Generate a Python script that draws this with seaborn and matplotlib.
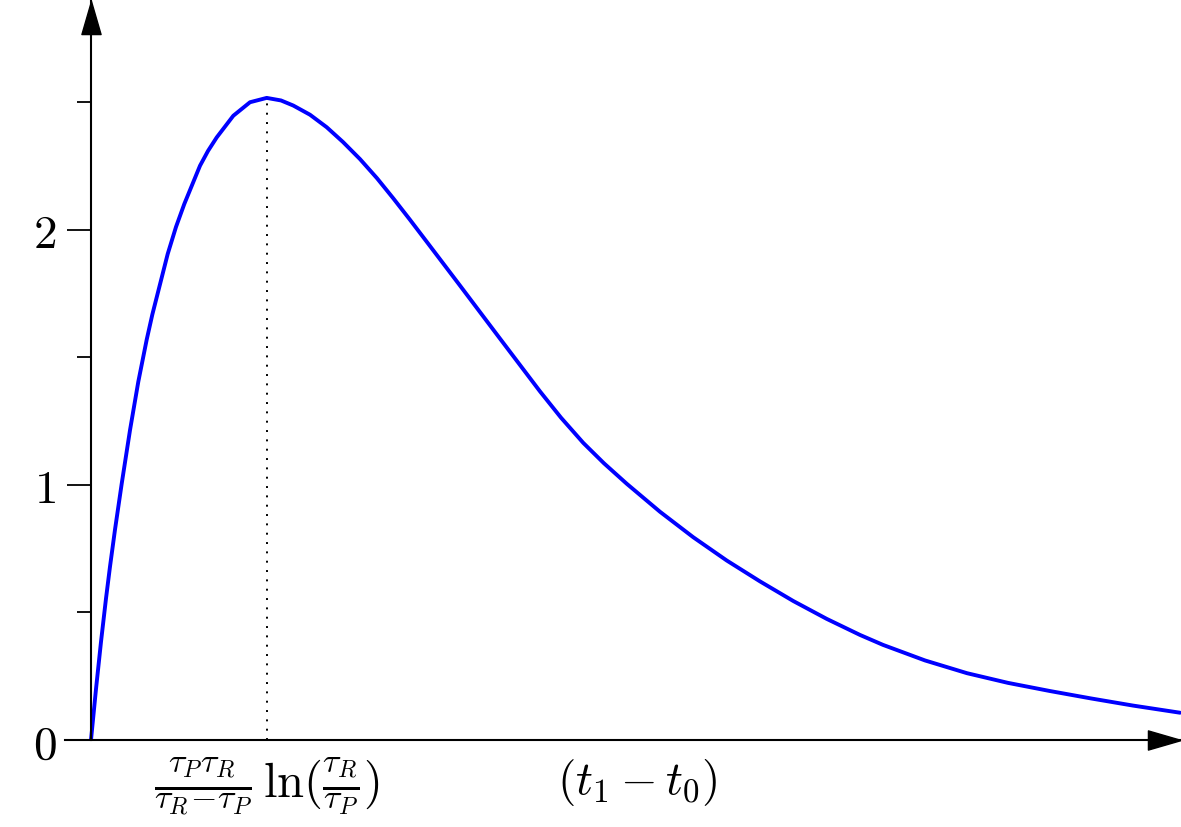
import numpy as np
import matplotlib
matplotlib.use("Agg")
import matplotlib.pyplot as plt
import seaborn as sns

# valores (t en unidades arbitrarias)
t_vals = [0.0, 0.05, 0.1, 0.15, 0.19, 0.24, 0.307, 0.39, 0.473, 0.557, 0.613,
          0.767, 0.85, 0.933, 1.09, 1.17, 1.257, 1.423, 1.59, 1.757, 1.9,
          2.023, 2.19, 2.357, 2.52, 2.69, 2.86, 3.023, 3.19, 3.357, 3.69,
          4.09, 4.49, 4.7, 4.923, 5.13, 5.357, 5.69, 6.023, 6.357, 6.69, 7.023,
          7.357, 7.69, 7.92, 8.34, 8.76, 9.17, 9.59, 10.0, 10.42, 10.89]
y_vals = [0.0, 0.2, 0.385, 0.555, 0.68, 0.825, 1.005, 1.215, 1.405, 1.57, 1.668,
          1.906, 2.012, 2.102, 2.252, 2.31, 2.363, 2.448, 2.501, 2.518, 2.508,
          2.488, 2.452, 2.403, 2.345, 2.278, 2.203, 2.124, 2.04, 1.954, 1.782,
          1.574, 1.367, 1.264, 1.165, 1.085, 1.005, 0.895, 0.795, 0.704, 0.622, 0.545,
          0.475, 0.412, 0.373, 0.312, 0.262, 0.224, 0.192, 0.163, 0.135, 0.107]
ytick_major = [0, 1, 2]
ytick_minor = [0.5, 1.5, 2.5]
ytick_labels = ["$0$", "$1$", "$2$"]
peak_label = r"$\frac{\tau_P\tau_R}{\tau_R\!-\!\tau_P}\,\ln(\frac{\tau_R}{\tau_P})$"
x_label = r"$(t_1 - t_0)$"

sns.set_style("ticks")
plt.rcParams["mathtext.fontset"] = "cm"
plt.rcParams["font.family"] = ["DejaVu Sans"]

fig = plt.figure(figsize=(11.81, 8.28), dpi=100)
ax = fig.add_axes([65 / 1181, 87 / 828, 1116 / 1181, 739 / 828])

sns.lineplot(x=t_vals, y=y_vals, color="#0000ff", lw=2.8, ax=ax)

# linea punteada en el maximo
i_max = int(np.argmax(y_vals))
ax.vlines(t_vals[i_max], 0, y_vals[i_max], colors="black", linestyles=(0, (1, 3.8)), lw=1.4)

ax.set_xlim(-0.26, 10.9)
ax.set_ylim(0, 2.898)

for s in ["top", "right"]:
    ax.spines[s].set_visible(False)
for s in ["left", "bottom"]:
    ax.spines[s].set_linewidth(1.5)
    ax.spines[s].set_color("black")
ax.spines["left"].set_position(("data", 0))

ax.set_yticks(ytick_major)
ax.set_yticklabels(ytick_labels, fontsize=34, color="black")
ax.set_yticks(ytick_minor, minor=True)
ax.tick_params(axis="y", which="major", length=17, width=1.3, pad=8, direction="out", color="black")
ax.tick_params(axis="y", which="minor", length=10, width=1.3, direction="out", color="black")

ax.set_xticks([t_vals[i_max]])
ax.set_xticklabels([peak_label], fontsize=35, color="black")
ax.tick_params(axis="x", length=0, pad=10)

ax.text(0.513, -0.056, x_label, transform=ax.transAxes, fontsize=34,
        ha="center", va="center", color="black")

# flechas de los ejes
head_x = [(0, 0), (-2, 0.58), (-2, -0.58), (0, 0)]
head_y = [(0, 0), (0.58, -2), (-0.58, -2), (0, 0)]
ax.plot(1, 0, marker=head_x, ms=47.6, color="black", transform=ax.get_yaxis_transform(), clip_on=False)
ax.plot(0, 1, marker=head_y, ms=47.6, color="black", transform=ax.get_xaxis_transform(), clip_on=False)

fig.savefig("out.png", dpi=100)
